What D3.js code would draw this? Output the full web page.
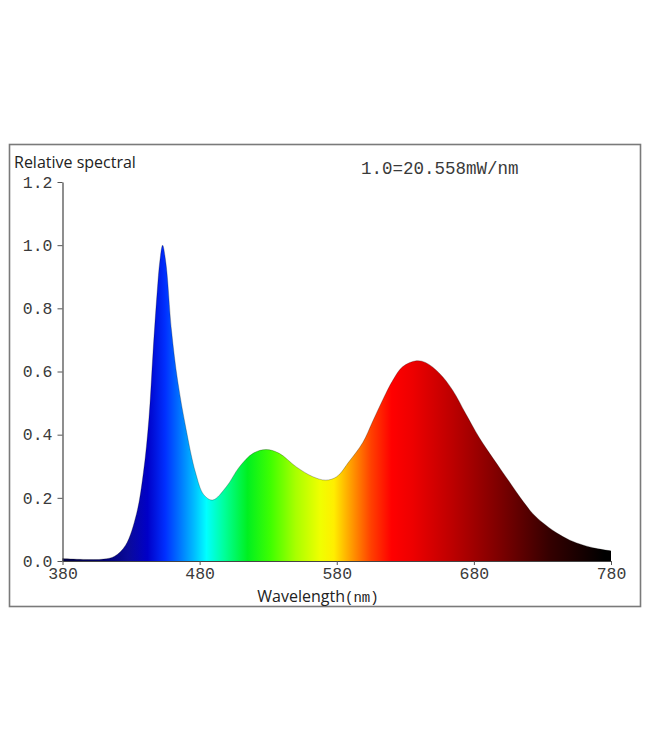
<!DOCTYPE html>
<html>
<head>
<meta charset="utf-8">
<script src="https://cdn.jsdelivr.net/npm/d3@7.9.0/dist/d3.min.js"></script>
<style>
  body { margin: 0; background: #fff; }
  svg { display: block; }
  .mono { font-family: "Liberation Mono", "DejaVu Sans Mono", monospace; }
  .sans { font-family: "Open Sans", "Noto Sans", sans-serif; }
</style>
</head>
<body>
<svg width="650" height="750"></svg>
<script>
// spectrum (nm, relative value)
const wavelengths = [380, 395, 410, 418, 426, 434, 439, 443, 446, 449, 451, 453, 455.5, 459.5, 464, 470, 477, 483, 489.5, 499.5, 509, 519, 528.5, 538, 550.5, 562.5, 572, 580, 589, 599, 606, 613.5, 621, 628, 638, 645, 655, 664.5, 674, 684, 694, 706, 716, 723, 730, 740, 750, 760, 769, 780];
const relValues = [0.008, 0.005, 0.006, 0.015, 0.05, 0.15, 0.28, 0.45, 0.66, 0.85, 0.95, 1.00, 0.94, 0.73, 0.57, 0.42, 0.28, 0.21, 0.193, 0.235, 0.298, 0.341, 0.353, 0.341, 0.298, 0.267, 0.256, 0.267, 0.315, 0.375, 0.44, 0.51, 0.573, 0.615, 0.634, 0.628, 0.594, 0.541, 0.467, 0.39, 0.325, 0.25, 0.188, 0.15, 0.122, 0.09, 0.066, 0.05, 0.04, 0.032];

// colour of the fill along the wavelength axis
const stopNm = [380, 410, 428, 442, 455, 466, 476, 485, 498, 515, 532, 550, 568, 578, 590, 605, 620, 635, 665, 700, 735, 775];
const stopColors = ["#000040", "#000070", "#0a0a9a", "#0000c8", "#0030ff", "#0078ff", "#00bcff", "#00ffff", "#00ff9a", "#00f020", "#40ff00", "#a8ff00", "#f0ff00", "#ffee00", "#ffa000", "#ff4000", "#ff0000", "#ee0000", "#bb0000", "#7a0000", "#350000", "#000000"];

const yTicks = [0, 0.2, 0.4, 0.6, 0.8, 1.0, 1.2];
const xTicks = [380, 480, 580, 680, 780];

const svg = d3.select("svg");
const x = d3.scaleLinear().domain([380, 780]).range([62.5, 611]);
const y = d3.scaleLinear().domain([0, 1.2]).range([561, 182]);

svg.append("rect")
    .attr("width", 650).attr("height", 750).attr("fill", "#fff");

// outer frame
svg.append("rect")
    .attr("x", 9.5).attr("y", 144.5)
    .attr("width", 631).attr("height", 462)
    .attr("fill", "none")
    .attr("stroke", "#7a7a7a")
    .attr("stroke-width", 1.6);

const grad = svg.append("defs").append("linearGradient")
    .attr("id", "spec")
    .attr("gradientUnits", "userSpaceOnUse")
    .attr("x1", x(380)).attr("x2", x(780))
    .attr("y1", 0).attr("y2", 0);

grad.selectAll("stop")
    .data(stopNm)
    .enter()
    .append("stop")
    .attr("offset", d => (d - 380) / 400)
    .attr("stop-color", (d, i) => stopColors[i]);

const pts = wavelengths.map((w, i) => [w, relValues[i]]);

const area = d3.area()
    .x(d => x(d[0]))
    .y0(y(0))
    .y1(d => y(d[1]))
    .curve(d3.curveCatmullRom.alpha(0.5));

const line = d3.line()
    .x(d => x(d[0]))
    .y(d => y(d[1]))
    .curve(d3.curveCatmullRom.alpha(0.5));

svg.append("path")
    .attr("d", area(pts))
    .attr("fill", "url(#spec)");

svg.append("path")
    .attr("d", line(pts))
    .attr("fill", "none")
    .attr("stroke", "#000")
    .attr("stroke-opacity", 0.25)
    .attr("stroke-width", 1);

// axes
const yAxis = svg.append("g")
    .attr("transform", `translate(${x(380)},0)`)
    .call(d3.axisLeft(y).tickValues(yTicks).tickSize(5).tickSizeOuter(0).tickFormat(d3.format(".1f")));

const xAxis = svg.append("g")
    .attr("transform", `translate(0,${y(0)})`)
    .call(d3.axisBottom(x).tickValues(xTicks).tickSize(4).tickSizeOuter(0).tickFormat(d3.format("d")));

[yAxis, xAxis].forEach(g => {
    g.select(".domain").attr("stroke", "#444").attr("stroke-width", 1.2);
    g.selectAll(".tick line").attr("stroke", "#555");
    g.selectAll("text")
        .attr("class", "mono")
        .attr("font-size", 16.5)
        .attr("fill", "#3a3a3a");
});
yAxis.selectAll("text").attr("x", -10);
xAxis.selectAll("text").attr("y", 6);

// labels
svg.append("text")
    .attr("class", "sans")
    .attr("x", 14).attr("y", 168)
    .attr("font-size", 16)
    .attr("fill", "#222")
    .text("Relative spectral");

svg.append("text")
    .attr("class", "mono")
    .attr("x", 361).attr("y", 174)
    .attr("font-size", 17.5)
    .attr("fill", "#3a3a3a")
    .text("1.0=20.558mW/nm");

const xl = svg.append("text")
    .attr("x", 318).attr("y", 602)
    .attr("text-anchor", "middle")
    .attr("fill", "#222");
xl.append("tspan").attr("class", "sans").attr("font-size", 16).text("Wavelength");
xl.append("tspan").attr("class", "mono").attr("font-size", 14).text("(nm)");
</script>
</body>
</html>
